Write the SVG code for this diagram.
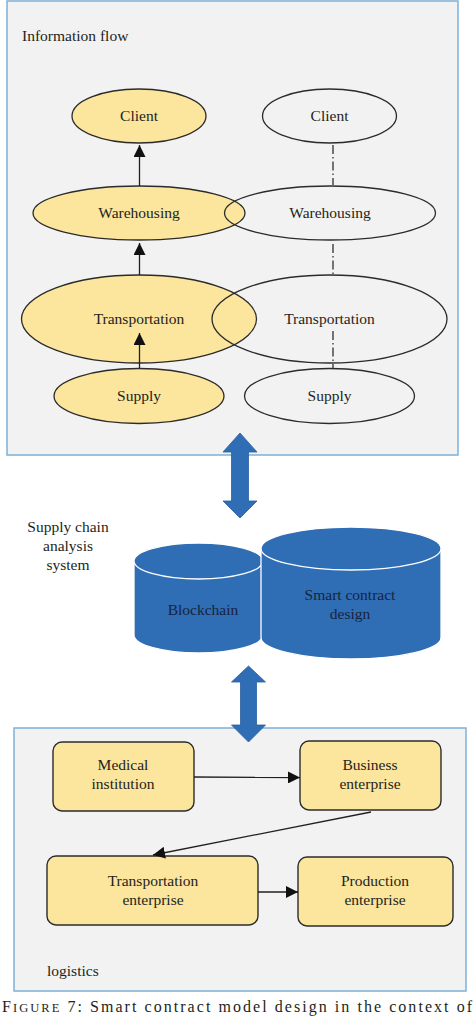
<svg xmlns="http://www.w3.org/2000/svg" width="474" height="1017" viewBox="0 0 474 1017">
  <style>
    .panel { fill: #f2f2f2; stroke: #7fb0d6; stroke-width: 1.5; }
    .t { font-family: "Liberation Serif", "Times New Roman", serif; font-size: 15.5px; fill: #231f20; text-anchor: middle; }
    .lbl { font-family: "Liberation Serif", "Times New Roman", serif; font-size: 15.5px; fill: #231f20; }
    .yel { fill: #fce59c; stroke: #2b2b2b; stroke-width: 1.3; }
    .open { fill: none; stroke: #2b2b2b; stroke-width: 1.3; }
    .box { fill: #fce59c; stroke: #2b2b2b; stroke-width: 1.4; }
    .cyl { fill: #2f6db5; stroke: #ffffff; stroke-width: 1.3; }
    .ct { font-family: "Liberation Serif", "Times New Roman", serif; font-size: 15.5px; fill: #17243d; text-anchor: middle; }
    .big { fill: #2f6db5; stroke: #2a5f9f; stroke-width: 0.8; }
    .conn { stroke: #231f20; stroke-width: 1.3; fill: none; }
    .dd { stroke: #231f20; stroke-width: 1.2; fill: none; stroke-dasharray: 9 3 1.5 3; }
    .cap { font-family: "Liberation Serif", "Times New Roman", serif; font-size: 16px; fill: #231f20; }
  </style>
  <defs>
    <marker id="ah" viewBox="0 0 12 12" refX="12" refY="6" markerWidth="12" markerHeight="12" markerUnits="userSpaceOnUse" orient="auto">
      <path d="M0,0 L12,6 L0,12 Z" fill="#111111"/>
    </marker>
  </defs>
  <rect width="474" height="1017" fill="#ffffff"/>

  <g id="panel-information-flow">
    <rect class="panel" x="7" y="1" width="451" height="454"/>
    <text class="lbl" x="22" y="41">Information flow</text>
  </g>

  <g id="client-left"><ellipse class="yel" cx="139" cy="116" rx="67" ry="27"/><text class="t" x="139" y="121">Client</text></g>
  <g id="warehousing-left"><ellipse class="yel" cx="139" cy="213" rx="106" ry="27"/><text class="t" x="139" y="218">Warehousing</text></g>
  <g id="transportation-left"><ellipse class="yel" cx="139" cy="319" rx="117.5" ry="44"/><text class="t" x="139" y="324">Transportation</text></g>
  <g id="supply-left"><ellipse class="yel" cx="139" cy="396" rx="85" ry="27.5"/><text class="t" x="139" y="401">Supply</text></g>

  <g id="client-right"><ellipse class="open" cx="329.5" cy="116" rx="67" ry="27"/><text class="t" x="329.5" y="121">Client</text></g>
  <g id="warehousing-right"><ellipse class="open" cx="330" cy="213" rx="105.5" ry="27"/><text class="t" x="330" y="218">Warehousing</text></g>
  <g id="transportation-right"><ellipse class="open" cx="329.5" cy="319" rx="117.5" ry="44"/><text class="t" x="329.5" y="324">Transportation</text></g>
  <g id="supply-right"><ellipse class="open" cx="329.5" cy="396" rx="85" ry="27.5"/><text class="t" x="329.5" y="401">Supply</text></g>

  <g id="supply-chain-label">
    <text class="t" x="68" y="532">Supply chain</text>
    <text class="t" x="68" y="551">analysis</text>
    <text class="t" x="68" y="570">system</text>
  </g>

  <g id="blockchain">
    <path class="cyl" d="M134,561 L134,635 A64.5,18 0 0 0 263,635 L263,561 Z"/>
    <ellipse class="cyl" cx="198.5" cy="561" rx="64.5" ry="18"/>
    <text class="ct" x="203" y="615">Blockchain</text>
  </g>
  <g id="smart-contract-design">
    <path class="cyl" d="M261,548.5 L261,637.5 A90,21.5 0 0 0 441,637.5 L441,548.5 Z"/>
    <ellipse class="cyl" cx="351" cy="548.5" rx="90" ry="21.5"/>
    <text class="ct" x="350" y="600">Smart contract</text>
    <text class="ct" x="350" y="619">design</text>
  </g>

  <g id="panel-logistics">
    <rect class="panel" x="14" y="728" width="452" height="263"/>
    <text class="lbl" x="47" y="976">logistics</text>
  </g>

  <g id="medical-institution"><rect class="box" x="53" y="742" width="141" height="69" rx="9"/><text class="t" x="123" y="770">Medical</text><text class="t" x="123" y="789">institution</text></g>
  <g id="business-enterprise"><rect class="box" x="300" y="741" width="141" height="69" rx="9"/><text class="t" x="370" y="770">Business</text><text class="t" x="370" y="789">enterprise</text></g>
  <g id="transportation-enterprise"><rect class="box" x="47" y="856" width="211" height="69" rx="9"/><text class="t" x="153" y="886">Transportation</text><text class="t" x="153" y="905">enterprise</text></g>
  <g id="production-enterprise"><rect class="box" x="298" y="857" width="155" height="69" rx="9"/><text class="t" x="375" y="886">Production</text><text class="t" x="375" y="905">enterprise</text></g>

  <g id="connectors">
    <line class="conn" x1="139.5" y1="186" x2="139.5" y2="145" marker-end="url(#ah)"/>
    <line class="conn" x1="139.5" y1="275" x2="139.5" y2="243" marker-end="url(#ah)"/>
    <line class="conn" x1="139.5" y1="368" x2="139.5" y2="333" marker-end="url(#ah)"/>
    <line class="dd" x1="333" y1="145" x2="333" y2="185"/>
    <line class="dd" x1="333" y1="244" x2="333" y2="275"/>
    <line class="dd" x1="333" y1="331" x2="333" y2="368"/>
    <polygon class="big" points="240,433 257,452 248.5,452 248.5,501 257,501 240,518 223,501 231.5,501 231.5,452 223,452"/>
    <polygon class="big" points="248.5,666 265.5,682 256.5,682 256.5,725 265.5,725 248.5,742 231.5,725 240.5,725 240.5,682 231.5,682"/>
    <line class="conn" x1="194" y1="777" x2="300" y2="777.5" marker-end="url(#ah)"/>
    <line class="conn" x1="371" y1="812" x2="153" y2="855" marker-end="url(#ah)"/>
    <line class="conn" x1="258" y1="892" x2="298" y2="892" marker-end="url(#ah)"/>
  </g>

  <text class="cap" x="2" y="1012" textLength="470" lengthAdjust="spacing"><tspan>F</tspan><tspan font-size="12.5">IGURE</tspan> 7: Smart contract model design in the context of</text>
</svg>
